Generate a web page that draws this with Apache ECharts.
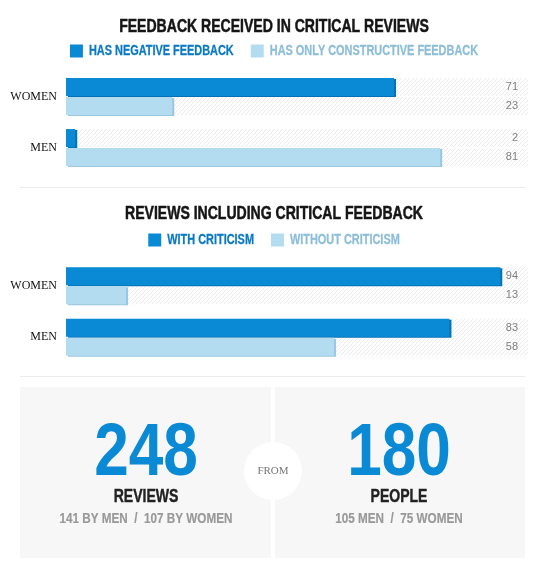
<!DOCTYPE html>
<html lang="en">
<head>
  <meta charset="UTF-8">
  <title>Critical feedback in reviews</title>
  <script src="https://cdn.jsdelivr.net/npm/echarts@6/dist/echarts.min.js"></script>
  <style>
    body { margin: 0; background: #fff; }
  </style>
</head>
<body>

<div id="chart" style="width: 545px; height: 580px;"></div>

<script>
  // data
  var groups = ['WOMEN', 'MEN'];

  var feedbackTitle = 'FEEDBACK RECEIVED IN CRITICAL REVIEWS';
  var feedbackNames = ['HAS NEGATIVE FEEDBACK', 'HAS ONLY CONSTRUCTIVE FEEDBACK'];
  var negativeFeedback = [71, 2];
  var constructiveOnly = [23, 81];

  var criticismTitle = 'REVIEWS INCLUDING CRITICAL FEEDBACK';
  var criticismNames = ['WITH CRITICISM', 'WITHOUT CRITICISM'];
  var withCriticism = [94, 83];
  var withoutCriticism = [13, 58];

  var statNumbers = ['248', '180'];
  var statLabels = ['REVIEWS', 'PEOPLE'];
  var statDetails = ['141 BY MEN  /  107 BY WOMEN', '105 MEN  /  75 WOMEN'];

  var DARK = '#0a8ad5';
  var LIGHT = '#b3dcf0';
  var DARK_TXT = '#0b79c2';
  var LIGHT_TXT = '#8dbed9';
  var SANS = "'Liberation Sans', Arial, sans-serif";
  var SERIF = "'Liberation Serif', 'DejaVu Serif', serif";
  var SQ = 0.78; // no condensed face installed, so squeeze the bold sans

  // diagonal hatch for the empty part of each row
  var hatch = document.createElement('canvas');
  hatch.width = 4;
  hatch.height = 4;
  var hc = hatch.getContext('2d');
  hc.fillStyle = '#fff';
  hc.fillRect(0, 0, 4, 4);
  hc.strokeStyle = '#ebebeb';
  hc.lineWidth = 1;
  hc.beginPath();
  hc.moveTo(0, 4); hc.lineTo(4, 0);
  hc.moveTo(-1, 1); hc.lineTo(1, -1);
  hc.moveTo(3, 5); hc.lineTo(5, 3);
  hc.stroke();

  var mctx = document.createElement('canvas').getContext('2d');
  function textW(str, size) {
    mctx.font = 'bold ' + size + 'px ' + SANS;
    return mctx.measureText(str).width * SQ;
  }

  function squeezed(str, x, y, size, color, align, heavy) {
    return {
      type: 'text', x: x, y: y, scaleX: SQ,
      style: {
        text: str, align: align || 'center', verticalAlign: 'middle',
        fontSize: size, fontWeight: 'bold', fontFamily: SANS, fill: color,
        stroke: heavy ? color : null, lineWidth: heavy || 0
      }
    };
  }

  // legend row: two swatches + labels, centred on the page
  function legendRow(names, cy) {
    var w0 = textW(names[0], 14), w1 = textW(names[1], 14);
    var total = 13 + 6 + w0 + 17 + 13 + 6 + w1;
    var x = 274 - total / 2;
    var out = [];
    [[DARK, DARK_TXT, w0], [LIGHT, LIGHT_TXT, w1]].forEach(function (c, i) {
      out.push({ type: 'rect', shape: { x: x, y: cy - 6.5, width: 13, height: 13 }, style: { fill: c[0] } });
      out.push(squeezed(names[i], x + 19, cy, 14, c[1], 'left', 0.3));
      x += 13 + 6 + c[2] + 17;
    });
    return out;
  }

  var myChart = echarts.init(document.getElementById('chart'));

  function trackSeries(idx, values) {
    return {
      type: 'bar',
      name: 'track' + idx,
      xAxisIndex: idx,
      yAxisIndex: idx * 2 + 1,
      data: groups.map(function () { return 100; }),
      barWidth: 18,
      barGap: '5%',
      silent: true,
      z: 1,
      itemStyle: { color: { image: hatch, repeat: 'repeat' } },
      label: {
        show: true,
        position: 'insideRight',
        distance: 10,
        color: '#808080',
        fontSize: 11,
        fontFamily: SANS,
        formatter: function (p) { return values[p.dataIndex]; }
      }
    };
  }

  function dataSeries(idx, name, values, color, edge) {
    return {
      type: 'bar',
      name: name,
      xAxisIndex: idx,
      yAxisIndex: idx * 2,
      data: values,
      barWidth: 18,
      barGap: '5%',
      z: 2,
      itemStyle: {
        color: color,
        shadowColor: edge,
        shadowBlur: 0,
        shadowOffsetX: 2,
        shadowOffsetY: 1
      }
    };
  }

  function catAxis(idx, visible) {
    return {
      type: 'category',
      gridIndex: idx,
      data: groups,
      inverse: true,
      show: visible,
      axisLine: { show: false },
      axisTick: { show: false },
      axisLabel: {
        margin: 9,
        color: '#111',
        fontSize: 12,
        fontFamily: SERIF
      }
    };
  }

  var graphics = [
    squeezed(feedbackTitle, 274, 27, 18, '#151515', 'center', 0.5),
    squeezed(criticismTitle, 274, 214, 18, '#151515', 'center', 0.5),
    { type: 'line', shape: { x1: 20, y1: 187.5, x2: 525, y2: 187.5 }, style: { stroke: '#ececec', lineWidth: 1 } },
    { type: 'line', shape: { x1: 20, y1: 376.5, x2: 525, y2: 376.5 }, style: { stroke: '#ececec', lineWidth: 1 } },
    { type: 'rect', shape: { x: 20, y: 387, width: 251, height: 171 }, style: { fill: '#f7f7f7' } },
    { type: 'rect', shape: { x: 275, y: 387, width: 250, height: 171 }, style: { fill: '#f7f7f7' } },
    { type: 'circle', shape: { cx: 273, cy: 471, r: 29 }, style: { fill: '#fff' } },
    { type: 'text', x: 273, y: 471, style: { text: 'FROM', align: 'center', verticalAlign: 'middle', fill: '#777', fontSize: 11, fontFamily: SERIF } }
  ].concat(legendRow(feedbackNames, 51), legendRow(criticismNames, 240));

  [146, 399].forEach(function (cx, i) {
    var big = squeezed(statNumbers[i], cx, 455, 74, DARK);
    big.scaleX = 0.84;
    graphics.push(
      big,
      squeezed(statLabels[i], cx, 497, 18, '#222', 'center', 0.4),
      squeezed(statDetails[i], cx, 519, 15, '#999', 'center', 0.2)
    );
  });

  var option = {
    animation: false,
    grid: [
      { left: 66, right: 17, top: 71, height: 102 },
      { left: 66, right: 17, top: 260, height: 103 }
    ],
    xAxis: [
      { type: 'value', gridIndex: 0, min: 0, max: 100, show: false },
      { type: 'value', gridIndex: 1, min: 0, max: 100, show: false }
    ],
    yAxis: [
      catAxis(0, true), catAxis(0, false),
      catAxis(1, true), catAxis(1, false)
    ],
    series: [
      trackSeries(0, negativeFeedback),
      trackSeries(0, constructiveOnly),
      dataSeries(0, feedbackNames[0], negativeFeedback, DARK, '#0672b3'),
      dataSeries(0, feedbackNames[1], constructiveOnly, LIGHT, '#98c7df'),
      trackSeries(1, withCriticism),
      trackSeries(1, withoutCriticism),
      dataSeries(1, criticismNames[0], withCriticism, DARK, '#0672b3'),
      dataSeries(1, criticismNames[1], withoutCriticism, LIGHT, '#98c7df')
    ],
    graphic: graphics
  };

  myChart.setOption(option);
</script>

</body>
</html>
